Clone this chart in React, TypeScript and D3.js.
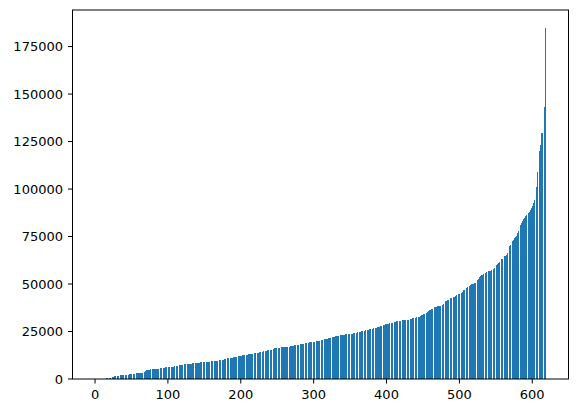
import { scaleLinear } from "d3";
import type { ReactElement } from "react";
import { useMemo } from "react";

// sorted values, one bar per index
const VALUES: ReadonlyArray<number> = [
  0, 0, 0, 0, 0, 0, 0, 0, 0, 0,
  0, 0, 0, 0, 0, 120, 350, 450, 500, 520,
  560, 600, 900, 1000, 1050, 1200, 1400, 1550, 1600, 1620,
  1650, 1700, 1750, 1800, 1850, 1900, 1950, 2000, 2050, 2100,
  2100, 2120, 2150, 2200, 2250, 2300, 2350, 2400, 2450, 2500,
  2500, 2520, 2550, 2600, 2800, 3000, 3100, 3150, 3150, 3160,
  3170, 3180, 3200, 3250, 3300, 3400, 3500, 3700, 3900, 4200,
  4500, 4650, 4700, 4750, 4850, 5000, 5100, 5200, 5250, 5250,
  5260, 5280, 5300, 5320, 5350, 5380, 5400, 5500, 5600, 5750,
  5800, 5820, 5850, 5900, 5950, 6000, 6050, 6100, 6200, 6250,
  6300, 6320, 6350, 6380, 6400, 6420, 6450, 6500, 6550, 6700,
  6800, 6850, 6900, 6950, 7000, 7100, 7200, 7300, 7400, 7450,
  7500, 7600, 7700, 7800, 7850, 7880, 7900, 7900, 7920, 7950,
  7980, 8000, 8050, 8100, 8200, 8300, 8350, 8400, 8420, 8450,
  8480, 8500, 8550, 8600, 8650, 8700, 8750, 8800, 8850, 8900,
  8900, 8920, 8950, 8980, 9000, 9050, 9100, 9150, 9200, 9300,
  9350, 9400, 9460, 9480, 9500, 9520, 9550, 9600, 9650, 9700,
  9800, 9900, 10000, 10050, 10100, 10150, 10200, 10250, 10300, 10400,
  10500, 10700, 10900, 11000, 11050, 11100, 11150, 11200, 11250, 11300,
  11400, 11500, 11600, 11650, 11700, 11750, 11800, 11900, 12000, 12100,
  12200, 12300, 12400, 12500, 12600, 12650, 12700, 12750, 12800, 12850,
  12900, 12950, 13000, 13050, 13100, 13150, 13200, 13300, 13400, 13500,
  13550, 13600, 13650, 13700, 13800, 13900, 14000, 14100, 14200, 14300,
  14400, 14500, 14600, 14700, 14800, 14900, 15000, 15050, 15100, 15200,
  15300, 15400, 15500, 15600, 15800, 16000, 16100, 16200, 16300, 16350,
  16400, 16450, 16500, 16550, 16600, 16650, 16700, 16720, 16750, 16800,
  16820, 16850, 16880, 16900, 16950, 17000, 17050, 17100, 17200, 17300,
  17400, 17500, 17550, 17600, 17650, 17700, 17800, 17900, 18000, 18100,
  18200, 18300, 18400, 18450, 18500, 18550, 18600, 18650, 18700, 18800,
  18900, 19000, 19100, 19200, 19250, 19300, 19350, 19400, 19450, 19500,
  19550, 19600, 19700, 19800, 19850, 19900, 19950, 20000, 20050, 20100,
  20200, 20300, 20500, 20700, 20800, 20900, 21000, 21100, 21200, 21300,
  21400, 21500, 21600, 21700, 21800, 21900, 22000, 22100, 22200, 22300,
  22400, 22500, 22600, 22700, 22800, 22900, 23000, 23100, 23150, 23200,
  23250, 23300, 23350, 23400, 23450, 23500, 23550, 23600, 23650, 23700,
  23750, 23800, 23850, 23900, 23950, 24000, 24100, 24200, 24300, 24400,
  24500, 24600, 24700, 24800, 24900, 25000, 25100, 25200, 25300, 25400,
  25500, 25600, 25700, 25750, 25800, 25900, 26000, 26100, 26200, 26300,
  26400, 26500, 26600, 26700, 26800, 26900, 27000, 27100, 27200, 27300,
  27400, 27600, 27800, 28000, 28200, 28400, 28500, 28600, 28700, 28800,
  28900, 29000, 29100, 29200, 29300, 29400, 29500, 29600, 29700, 29800,
  29900, 30000, 30100, 30200, 30300, 30400, 30500, 30550, 30600, 30650,
  30700, 30750, 30800, 30850, 30900, 30950, 31000, 31050, 31100, 31200,
  31300, 31400, 31500, 31600, 31700, 31800, 31900, 32000, 32100, 32200,
  32300, 32400, 32500, 32600, 32700, 32900, 33100, 33300, 33500, 33700,
  33900, 34100, 34300, 34500, 34700, 35000, 35300, 35600, 35900, 36200,
  36500, 36700, 36900, 37100, 37300, 37500, 37700, 37900, 38000, 38100,
  38200, 38300, 38400, 38500, 38600, 38700, 38800, 38900, 39500, 40200,
  40800, 41000, 41200, 41400, 41600, 41800, 42000, 42200, 42400, 42600,
  42800, 43000, 43200, 43400, 43600, 43800, 44000, 44200, 44400, 44600,
  44700, 44900, 45100, 45400, 45800, 46200, 46600, 47000, 47400, 47800,
  48000, 48200, 48500, 48800, 49200, 49600, 49900, 50000, 50100, 50200,
  50300, 50400, 50500, 50600, 51000, 52000, 52500, 53000, 53500, 54000,
  54500, 54800, 55000, 55200, 55400, 55600, 55900, 56100, 56300, 56500,
  56700, 56900, 57000, 57100, 57200, 57300, 57600, 58000, 58500, 59000,
  59500, 60000, 60400, 60800, 61100, 61500, 62000, 62500, 63000, 63400,
  63800, 64200, 64500, 64800, 65100, 65500, 66500, 67500, 68800, 69800,
  70500, 71200, 71800, 72400, 73000, 73600, 74200, 74800, 75500, 76200,
  77000, 78000, 79000, 80000, 81000, 82000, 82800, 83400, 84000, 84800,
  85500, 86000, 86400, 86800, 87200, 87600, 88000, 88400, 89000, 90000,
  91000, 92000, 92500, 94000, 95100, 97500, 101000, 109000, 113000, 117000,
  120000, 123000, 126000, 129300, 129600, 130000, 130000, 143000, 185000,
];

const X_TICKS: ReadonlyArray<number> = [0, 100, 200, 300, 400, 500, 600];
const Y_TICKS: ReadonlyArray<number> = [0, 25000, 50000, 75000, 100000, 125000, 150000, 175000];

const WIDTH = 578;
const HEIGHT = 413;
const PLOT = { left: 72.5, right: 568.5, top: 10, bottom: 379 };
// sub-pixel phase of the data area, decides which thin bars survive snapping
const X_PHASE = -0.3;
const BAR_W = 0.8;
const BAR_COLOR = "#1f77b4";
const FONT = "'DejaVu Sans', sans-serif";
const FONT_SIZE = 13;
const TICK_LEN = 4.5;

export default function App(): ReactElement {
  const { x, y } = useMemo(() => {
    const n = VALUES.length;
    const lo = -BAR_W / 2;
    const hi = n - 1 + BAR_W / 2;
    const pad = (hi - lo) * 0.05;
    const maxV = Math.max(...VALUES);
    return {
      x: scaleLinear()
        .domain([lo - pad, hi + pad])
        .range([PLOT.left + X_PHASE, PLOT.right + X_PHASE]),
      y: scaleLinear().domain([0, maxV * 1.05]).range([PLOT.bottom, PLOT.top]),
    };
  }, []);

  return (
    <>
      <style>{"body{margin:0}"}</style>
      <svg width={WIDTH} height={HEIGHT} style={{ display: "block", background: "#fff" }}>
        <g shapeRendering="crispEdges">
          {VALUES.map((v, i) => {
            // snap bar edges to whole pixels, like the raster backend does
            const x0 = Math.round(x(i - BAR_W / 2));
            const x1 = Math.round(x(i + BAR_W / 2));
            if (x1 <= x0 || v <= 0) return null;
            return (
              <rect
                key={i}
                x={x0}
                y={y(v)}
                width={x1 - x0}
                height={y(0) - y(v)}
                fill={BAR_COLOR}
              />
            );
          })}
        </g>

        {/* axes frame */}
        <rect
          x={PLOT.left}
          y={PLOT.top}
          width={PLOT.right - PLOT.left}
          height={PLOT.bottom - PLOT.top}
          fill="none"
          stroke="#000"
          strokeWidth={1}
        />

        {X_TICKS.map((t) => (
          <g key={`x${t}`}>
            <line x1={x(t)} x2={x(t)} y1={PLOT.bottom} y2={PLOT.bottom + TICK_LEN} stroke="#000" strokeWidth={1} />
            <text
              x={x(t)}
              y={PLOT.bottom + TICK_LEN + 15}
              textAnchor="middle"
              fontFamily={FONT}
              fontSize={FONT_SIZE}
              fill="#000"
            >
              {t}
            </text>
          </g>
        ))}

        {Y_TICKS.map((t) => (
          <g key={`y${t}`}>
            <line x1={PLOT.left - TICK_LEN} x2={PLOT.left} y1={y(t)} y2={y(t)} stroke="#000" strokeWidth={1} />
            <text
              x={PLOT.left - TICK_LEN - 5}
              y={y(t)}
              dy="0.36em"
              textAnchor="end"
              fontFamily={FONT}
              fontSize={FONT_SIZE}
              fill="#000"
            >
              {t}
            </text>
          </g>
        ))}
      </svg>
    </>
  );
}
